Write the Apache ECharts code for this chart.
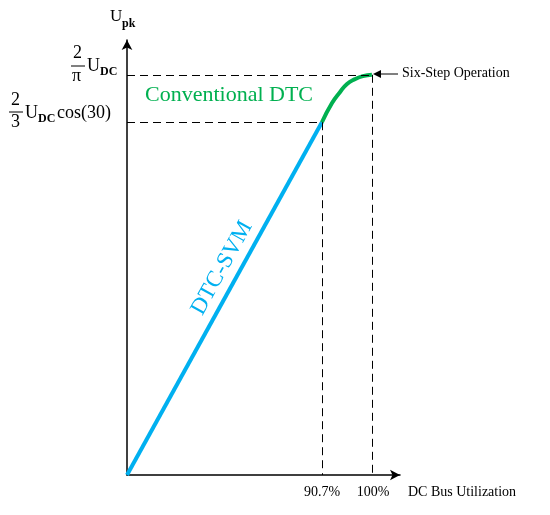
<!DOCTYPE html><html><head><meta charset="utf-8"><script src="https://cdn.jsdelivr.net/npm/echarts@6/dist/echarts.min.js"></script></head><body style="margin:0"><div id="c" style="width:550px;height:515px"></div><script>
const svmX=[0,71.4], svmY=[0,81.1];
const dtcX=[71.4,75.1,78.0,80.6,83.5,86.4,89.7];
const dtcY=[81.1,85.5,88.0,89.9,91.0,91.7,92.0];
const xTicks=[{v:71.4,t:'90.7%'},{v:89.7,t:'100%'}];
const yLevels=[{v:81.1},{v:92.0}];
const ch=echarts.init(document.getElementById('c'));
const serif='Liberation Serif';
const ml={symbol:'none',silent:true,label:{show:false},lineStyle:{color:'#000',type:[8,5],width:1},data:[
 [{coord:[0,yLevels[0].v]},{coord:[xTicks[0].v,yLevels[0].v]}],
 [{coord:[xTicks[0].v,yLevels[0].v]},{coord:[xTicks[0].v,0]}],
 [{coord:[0,yLevels[1].v]},{coord:[xTicks[1].v,yLevels[1].v]}],
 [{coord:[xTicks[1].v,yLevels[1].v]},{coord:[xTicks[1].v,0]}]]};
ch.setOption({animation:false,
grid:{left:127,top:40,right:150,bottom:40},
xAxis:{type:'value',min:0,max:100,axisLine:{lineStyle:{color:'#000',width:1.5},symbol:['none','arrow'],symbolSize:[8,10]},axisTick:{show:false},axisLabel:{show:false},splitLine:{show:false}},
yAxis:{type:'value',min:0,max:100,axisLine:{show:true,lineStyle:{color:'#000',width:1.5},symbol:['none','arrow'],symbolSize:[8,10]},axisTick:{show:false},axisLabel:{show:false},splitLine:{show:false}},
series:[
 {type:'line',data:svmX.map((x,i)=>[x,svmY[i]]),symbol:'none',lineStyle:{color:'#00b0f0',width:4},markLine:ml},
 {type:'line',data:dtcX.map((x,i)=>[x,dtcY[i]]),smooth:true,symbol:'none',lineStyle:{color:'#00b050',width:4}}
],
graphic:[
 {type:'text',x:110,y:8,style:{text:'U',font:'17px '+serif,fill:'#000'}},
 {type:'text',x:122,y:18,style:{text:'pk',font:'bold 12px '+serif,fill:'#000'}},
 {type:'text',x:73,y:44,style:{text:'2',font:'18px '+serif,fill:'#000'}},
 {type:'line',shape:{x1:71,y1:66,x2:85,y2:66},style:{stroke:'#000',lineWidth:1}},
 {type:'text',x:72,y:67,style:{text:'π',font:'18px '+serif,fill:'#000'}},
 {type:'text',x:87,y:57,style:{text:'U',font:'18px '+serif,fill:'#000'}},
 {type:'text',x:100,y:66,style:{text:'DC',font:'bold 12px '+serif,fill:'#000'}},
 {type:'text',x:11,y:91,style:{text:'2',font:'18px '+serif,fill:'#000'}},
 {type:'line',shape:{x1:9,y1:112,x2:23,y2:112},style:{stroke:'#000',lineWidth:1}},
 {type:'text',x:11,y:113,style:{text:'3',font:'18px '+serif,fill:'#000'}},
 {type:'text',x:25,y:104,style:{text:'U',font:'18px '+serif,fill:'#000'}},
 {type:'text',x:38,y:113,style:{text:'DC',font:'bold 12px '+serif,fill:'#000'}},
 {type:'text',x:57,y:104,style:{text:'cos(30)',font:'18px '+serif,fill:'#000'}},
 {type:'text',x:145,y:84,style:{text:'Conventional DTC',font:'22px '+serif,fill:'#00b050'}},
 {type:'text',x:402,y:66,style:{text:'Six-Step Operation',font:'14px '+serif,fill:'#000'}},
 {type:'line',shape:{x1:398,y1:74,x2:378,y2:74},style:{stroke:'#000',lineWidth:1}},
 {type:'polygon',shape:{points:[[373,74],[381,70],[381,78]]},style:{fill:'#000'}},
 {type:'text',x:222,y:268,rotation:61*Math.PI/180,style:{text:'DTC-SVM',font:'23px '+serif,fill:'#00b0f0',align:'center',verticalAlign:'middle'}},
 {type:'text',x:322,y:485,style:{text:xTicks[0].t,font:'14px '+serif,fill:'#000',align:'center'}},
 {type:'text',x:373,y:485,style:{text:xTicks[1].t,font:'14px '+serif,fill:'#000',align:'center'}},
 {type:'text',x:408,y:485,style:{text:'DC Bus Utilization',font:'14px '+serif,fill:'#000'}}
]});
</script></body></html>
